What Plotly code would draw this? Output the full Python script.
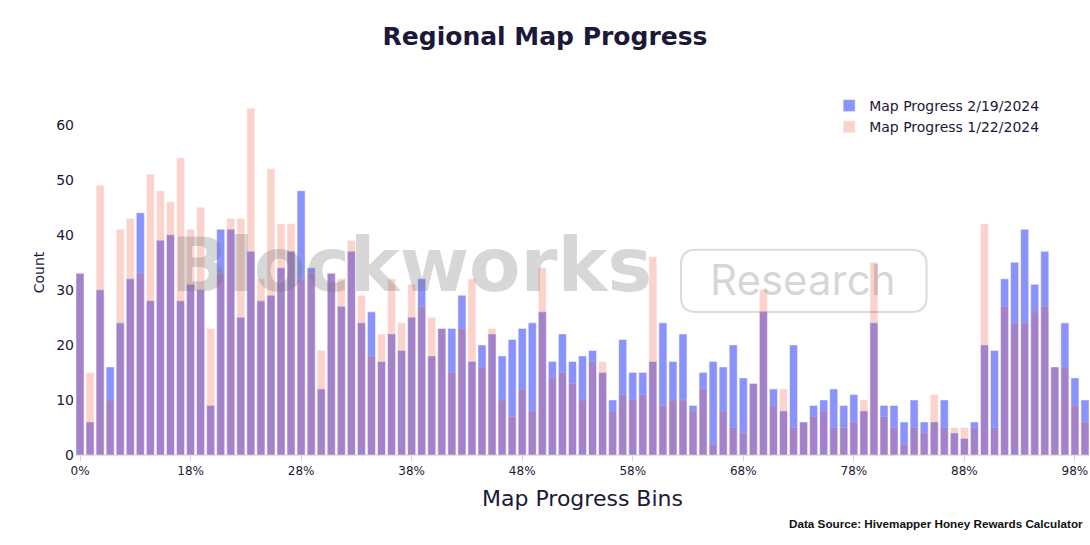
import plotly.graph_objects as go

# Category labels in the (lexically sorted) order they appear on the axis
categories = ["0%", "1%", "10%", "100%", "11%", "12%", "13%", "14%", "15%", "16%", "17%",
              "18%", "19%", "2%", "20%", "21%", "22%", "23%", "24%", "25%", "26%", "27%",
              "28%", "29%", "3%", "30%", "31%", "32%", "33%", "34%", "35%", "36%", "37%",
              "38%", "39%", "4%", "40%", "41%", "42%", "43%", "44%", "45%", "46%", "47%",
              "48%", "49%", "5%", "50%", "51%", "52%", "53%", "54%", "55%", "56%", "57%",
              "58%", "59%", "6%", "60%", "61%", "62%", "63%", "64%", "65%", "66%", "67%",
              "68%", "69%", "7%", "70%", "71%", "72%", "73%", "74%", "75%", "76%", "77%",
              "78%", "79%", "8%", "80%", "81%", "82%", "83%", "84%", "85%", "86%", "87%",
              "88%", "89%", "9%", "90%", "91%", "92%", "93%", "94%", "95%", "96%", "97%",
              "98%", "99%"]

progress_2_19 = [33, 6, 30, 16, 24, 32, 44, 28, 39, 40, 28,
                 31, 30, 9, 41, 41, 25, 37, 28, 29, 34, 37,
                 48, 34, 12, 33, 27, 37, 24, 26, 17, 22, 19,
                 25, 32, 18, 23, 23, 29, 17, 20, 22, 18, 21,
                 23, 24, 26, 17, 22, 17, 18, 19, 15, 10, 21,
                 15, 15, 17, 24, 17, 22, 9, 15, 17, 16, 20,
                 14, 13, 26, 12, 8, 20, 6, 9, 10, 12, 9,
                 11, 8, 24, 9, 9, 6, 10, 6, 6, 10, 4,
                 3, 6, 20, 19, 32, 35, 41, 31, 37, 16, 24,
                 14, 10]

progress_1_22 = [33, 15, 49, 10, 41, 43, 33, 51, 48, 46, 54,
                 41, 45, 23, 33, 43, 43, 63, 32, 52, 42, 42,
                 32, 33, 19, 33, 32, 39, 29, 18, 22, 32, 24,
                 31, 27, 25, 23, 15, 23, 32, 16, 23, 10, 7,
                 12, 8, 34, 14, 15, 13, 10, 17, 17, 8, 11,
                 10, 11, 36, 9, 10, 10, 8, 12, 2, 8, 5,
                 4, 13, 30, 9, 12, 5, 6, 7, 8, 5, 5,
                 6, 10, 35, 7, 5, 2, 5, 4, 11, 5, 5,
                 5, 5, 42, 5, 27, 24, 24, 26, 27, 16, 16,
                 9, 6]

TXT = "#1c1838"

fig = go.Figure()
fig.add_trace(go.Bar(x=categories, y=progress_2_19, name="Map Progress 2/19/2024",
                     marker=dict(color="#636EFA", line=dict(color="white", width=0.5)),
                     opacity=0.75))
fig.add_trace(go.Bar(x=categories, y=progress_1_22, name="Map Progress 1/22/2024",
                     marker=dict(color="#EF553B", line=dict(color="white", width=0.5)),
                     opacity=0.25))

fig.update_layout(
    template="plotly_white",
    width=1090, height=545,
    margin=dict(l=75, r=0, t=90, b=90),
    barmode="overlay", bargap=0.2,
    paper_bgcolor="white", plot_bgcolor="white",
    font=dict(family="Verdana, DejaVu Sans, sans-serif", size=12, color=TXT),
    title=dict(text="<b>Regional Map Progress</b>", x=0.5, xanchor="center",
               y=1 - 36 / 545, yanchor="middle",
               font=dict(family="Verdana, DejaVu Sans, sans-serif", size=25, color=TXT)),
    legend=dict(x=0.743, y=1.0, xanchor="left", yanchor="top",
                bgcolor="rgba(0,0,0,0)", font=dict(size=14, color=TXT)),
    xaxis=dict(type="category", tickmode="linear", tick0=0, dtick=11,
               showgrid=False, showline=False, ticks="outside", ticklen=5,
               tickcolor="#d0d3dc", tickfont=dict(size=12, color=TXT),
               title=dict(text="Map Progress Bins", font=dict(size=22, color=TXT), standoff=13)),
    yaxis=dict(range=[0, 66.3], showgrid=False, showline=False, ticks="",
               zeroline=True, zerolinecolor="#dfe2ea", zerolinewidth=2,
               dtick=10, tickfont=dict(size=14, color=TXT),
               title=dict(text="Count", font=dict(size=14, color=TXT), standoff=8)),
)

# Watermark
fig.add_annotation(text="<b>Blockworks</b>", xref="paper", yref="paper", x=0.332, y=0.52,
                   xanchor="center", yanchor="middle", showarrow=False,
                   font=dict(family="DejaVu Sans, sans-serif", size=75,
                             color="rgba(110,110,110,0.28)"))
x0, x1, y0, y1 = 0.597, 0.839, 0.392, 0.562
rx, ry = 0.0148, 0.041
path = (f"M {x0+rx},{y0} L {x1-rx},{y0} Q {x1},{y0} {x1},{y0+ry} "
        f"L {x1},{y1-ry} Q {x1},{y1} {x1-rx},{y1} L {x0+rx},{y1} "
        f"Q {x0},{y1} {x0},{y1-ry} L {x0},{y0+ry} Q {x0},{y0} {x0+rx},{y0} Z")
fig.add_shape(type="path", path=path, xref="paper", yref="paper",
              line=dict(color="rgba(110,110,110,0.25)", width=2), layer="above")
fig.add_annotation(text="Research", xref="paper", yref="paper", x=0.717, y=0.482,
                   xanchor="center", yanchor="middle", showarrow=False,
                   font=dict(family="Inter, sans-serif", size=42,
                             color="rgba(110,110,110,0.28)"))

# Data source
fig.add_annotation(text="<b>Data Source: Hivemapper Honey Rewards Calculator</b>",
                   xref="paper", yref="paper", x=1, y=(455 - 523) / 365,
                   xanchor="right", yanchor="middle", xshift=-5, showarrow=False,
                   font=dict(family="Liberation Sans, Arial, sans-serif", size=11.7, color="#111111"))

fig.write_html("out.html")
